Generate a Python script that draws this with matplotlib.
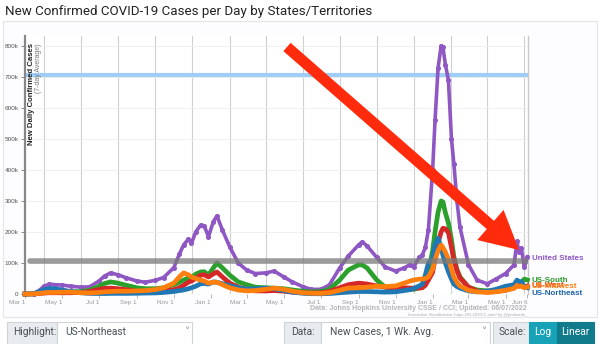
import matplotlib

matplotlib.use("Agg")
import matplotlib.pyplot as plt
import matplotlib.dates as mdates
import pandas as pd
from matplotlib.patches import FancyArrow, Rectangle
from matplotlib.transforms import Affine2D

# 7-day average new cases, thousands
DATES = [
    "2020-03-01", "2020-03-15", "2020-03-25", "2020-04-01", "2020-04-10", "2020-04-20",
    "2020-05-01", "2020-05-15", "2020-06-01", "2020-06-15", "2020-07-01", "2020-07-10",
    "2020-07-20", "2020-08-01", "2020-08-15", "2020-09-01", "2020-09-15", "2020-10-01",
    "2020-10-15", "2020-11-01", "2020-11-10", "2020-11-17", "2020-11-25", "2020-11-30",
    "2020-12-07", "2020-12-15", "2020-12-21", "2020-12-28",
    "2021-01-05", "2021-01-11", "2021-01-20", "2021-02-01", "2021-02-15", "2021-03-01",
    "2021-03-15", "2021-04-01", "2021-04-15", "2021-05-01", "2021-05-15", "2021-06-01",
    "2021-06-15", "2021-07-01", "2021-07-15", "2021-08-01", "2021-08-15", "2021-09-01",
    "2021-09-07", "2021-09-15", "2021-10-01", "2021-10-15", "2021-11-01", "2021-11-15",
    "2021-11-25", "2021-12-01", "2021-12-10", "2021-12-15", "2021-12-20", "2021-12-25",
    "2022-01-01", "2022-01-05", "2022-01-10", "2022-01-15", "2022-01-18", "2022-01-22",
    "2022-01-27", "2022-02-01", "2022-02-05", "2022-02-10", "2022-02-15", "2022-03-01",
    "2022-03-15", "2022-04-01", "2022-04-15", "2022-05-01", "2022-05-15", "2022-05-20",
    "2022-05-23", "2022-05-27", "2022-06-01", "2022-06-06",
]
US = [
    0, 1.5, 12, 25, 32, 30, 29, 25, 22, 23, 42, 58, 68, 62, 52, 42, 38, 44, 53, 85,
    128, 158, 177, 163, 200, 222, 220, 185,
    233, 252, 206, 152, 100, 77, 66, 68, 74, 55, 39, 24, 15, 15, 29, 84, 122, 158,
    168, 155, 118, 87, 74, 84, 95, 88, 118, 126, 150, 206,
    400, 560, 730, 800, 795, 740, 690, 500, 420, 300, 216, 95, 45, 33, 48, 66, 94, 170,
    135, 148, 86, 120,
]
SOUTH = [
    0, 0.5, 3, 6, 7, 7, 7, 7, 8, 12, 25, 34, 39, 35, 28, 20, 17, 17, 20, 30,
    38, 45, 52, 52, 64, 71, 72, 61,
    84, 100, 84, 61, 39, 30, 22, 20, 19, 17, 13, 9, 7, 8, 15, 45, 77, 94,
    94, 84, 45, 22, 16, 14, 16, 15, 20, 25, 35, 68,
    140, 200, 265, 300, 297, 262, 229, 175, 120, 80, 55, 22, 13, 10, 10, 14, 22, 40,
    35, 38, 48, 45,
]
WEST = [
    0, 0.3, 1.5, 3, 4, 4, 4, 4, 5, 8, 15, 18, 19, 17, 14, 9, 7, 7, 9, 14,
    20, 28, 38, 42, 50, 61, 62, 55,
    65, 71, 55, 35, 22, 15, 10, 10, 11, 9, 6, 4, 3, 4, 8, 20, 30, 35,
    34, 32, 26, 22, 20, 20, 19, 19, 19, 20, 28, 45,
    70, 115, 165, 200, 212, 210, 198, 150, 110, 75, 52, 22, 10, 6, 8, 12, 20, 30,
    26, 28, 22, 26,
]
MIDWEST = [
    0, 0.3, 2, 4, 5, 5, 6, 6, 4, 3.5, 5, 7, 8, 9, 9, 10, 11, 14, 20, 35,
    55, 68, 62, 55, 50, 45, 42, 35,
    38, 38, 30, 20, 13, 10, 11, 15, 19, 15, 9, 4, 2.5, 2, 4, 12, 19, 20,
    21, 22, 25, 24, 26, 35, 42, 45, 48, 48, 50, 55,
    80, 110, 140, 158, 150, 135, 112, 80, 55, 38, 26, 12, 7, 5, 7, 12, 18, 28,
    24, 26, 20, 23,
]
NORTHEAST = [
    0, 0.7, 8, 14, 18, 17, 13, 8, 4, 2, 1.5, 1.5, 2, 2, 2, 2.5, 3, 3.5, 5, 8,
    11, 13, 17, 20, 25, 33, 34, 32,
    39, 38, 33, 27, 20, 16, 17, 19, 17, 11, 6, 2.5, 1, 0.8, 1.5, 4, 6, 8,
    8, 8, 7, 6, 7, 11, 14, 18, 26, 32, 61, 100,
    115, 160, 180, 150, 125, 100, 72, 48, 32, 24, 19, 10, 7, 9, 15, 25, 30, 45,
    38, 40, 22, 20,
]
REF_LINES = [707, 107]

TICK_DATES = [
    "2020-03-01", "2020-05-01", "2020-07-01", "2020-09-01", "2020-11-01", "2021-01-01",
    "2021-03-01", "2021-05-01", "2021-07-01", "2021-09-01", "2021-11-01", "2022-01-01",
    "2022-03-01", "2022-05-01", "2022-06-06",
]
TICK_LABELS = [
    "Mar 1", "May 1", "Jul 1", "Sep 1", "Nov 1", "Jan 1", "Mar 1", "May 1", "Jul 1",
    "Sep 1", "Nov 1", "Jan 1", "Mar 1", "May 1", "Jun 6",
]

W, H = 600, 344
fig = plt.figure(figsize=(W / 100, H / 100), dpi=100)
fig.patch.set_facecolor("white")
px = Affine2D().scale(1 / W, -1 / H).translate(0, 1) + fig.transFigure

FONT = ["Roboto", "DejaVu Sans"]
FONT_B = ["Liberation Sans", "DejaVu Sans"]

# chart panel, behind the axes
fig.patches.append(Rectangle((3, 21), 594, 296, transform=px, facecolor="#fdfdff",
                             edgecolor="#e4e4ea", lw=0.8, zorder=-5))

ax = fig.add_axes([25 / W, (H - 294) / H, (528 - 25) / W, (294 - 36) / H])
ax.set_zorder(2)
ax.set_facecolor("white")

dates = pd.to_datetime(DATES)
ax.set_xlim(pd.Timestamp("2020-03-01"), pd.Timestamp("2022-06-07"))
ax.set_ylim(0, 832)

ax.xaxis.set_minor_locator(mdates.MonthLocator())
ax.set_xticks(pd.to_datetime(TICK_DATES))
ax.set_xticklabels(TICK_LABELS, fontsize=4.6, color="#999999", ha="right", family=FONT_B)
ax.tick_params(axis="x", which="major", length=3, width=0.6, color="#aaaaaa", pad=1)
ax.tick_params(axis="x", which="minor", length=0)
ax.grid(which="minor", axis="x", color="#cfcfcf", lw=0.8)

yt = list(range(0, 801, 100))
ax.set_yticks(yt)
ax.set_yticklabels(["0"] + [f"{v}k" for v in yt[1:]], fontsize=4.6, color="#555555",
                   family=FONT_B)
ax.tick_params(axis="y", length=3, width=0.6, color="#777777", pad=1.5)
ax.grid(which="major", axis="y", color="#eeeeee", lw=0.6)
ax.set_axisbelow(True)

for side in ("top", "bottom"):
    ax.spines[side].set_visible(False)
ax.spines["left"].set_color("#888888")
ax.spines["left"].set_linewidth(1.6)
ax.spines["right"].set_color("#c8c8c8")
ax.spines["right"].set_linewidth(1.0)

# reference lines
ax.axhline(REF_LINES[0], color="#9fcdf5", lw=3, zorder=2)
ax.plot([pd.Timestamp("2020-03-10"), pd.Timestamp("2022-06-07")], [REF_LINES[1]] * 2,
        color="#7a7a7a", lw=4, alpha=0.75, solid_capstyle="round", zorder=8)

series = [
    (US, "#8e57c4", 2.6, "o", 3),
    (SOUTH, "#2ca02c", 3.4, None, 4),
    (WEST, "#d62728", 3.4, None, 5),
    (NORTHEAST, "#1f77b4", 3.4, None, 6),
    (MIDWEST, "#ff7f0e", 3.4, None, 7),
]
for vals, color, lw, mk, z in series:
    ax.plot(dates, vals, color=color, lw=lw, marker=mk, markersize=2.6,
            solid_joinstyle="round", zorder=z, clip_on=False)

# end labels
end = dates[-1]
labels = [
    ("United States", US[-1], "#8e57c4", -1),
    ("US-South", SOUTH[-1], "#2a9a2a", 0),
    ("US-West", WEST[-1], "#e8461c", 0.5),
    ("US-Midwest", MIDWEST[-1], "#ff7f0e", 0),
    ("US-Northeast", NORTHEAST[-1], "#1f63a8", -4),
]
for text, val, color, dy in labels:
    ax.annotate(text, (end, val), xytext=(3, dy), textcoords="offset points",
                fontsize=5.8, fontweight="bold", color=color, va="center",
                family=FONT_B, annotation_clip=False)

# y label
fig.text(31.5, 43, "New Daily Confirmed Cases", transform=px, rotation=90, ha="center",
         va="top", fontsize=5.6, fontweight="bold", color="#222222", family=FONT_B,
         zorder=10)
fig.text(38, 43, "(7-day Average)", transform=px, rotation=90, ha="center",
         va="top", fontsize=5, color="#777777", family=FONT_B, zorder=10)

# title
fig.text(5, 11, "New Confirmed COVID-19 Cases per Day by States/Territories", transform=px,
         ha="left", va="center", fontsize=9.6, color="#222222", family=FONT)

# credits
fig.text(527, 309, "Data: Johns Hopkins University CSSE / CCI; Updated: 06/07/2022",
         transform=px, ha="right", va="center", fontsize=5, fontweight="bold",
         color="#b5b5b5", family=FONT_B)
fig.text(527, 315, "Interactive Visualization: https://91-DIVOC.com/ by @profwade_",
         transform=px, ha="right", va="center", fontsize=3.1, color="#aaaaaa", family=FONT_B)

# arrow overlay
fig.add_artist(FancyArrow(287, 47, 232, 203, width=11, head_width=40, head_length=38,
                          length_includes_head=True, transform=px, color="#ff2b0c",
                          lw=0, zorder=20))


# controls row
def box(x0, x1, fc, ec="#ced4da"):
    fig.add_artist(Rectangle((x0, 322), x1 - x0, 24, transform=px, facecolor=fc,
                             edgecolor=ec, lw=0.8))


def label(x, text, color="#495057", ha="left"):
    fig.text(x, 332, text, transform=px, ha=ha, va="center", fontsize=7.4,
             color=color, family=FONT)


box(7, 57, "#e9ecef")
box(57, 192, "white")
label(13, "Highlight:")
label(65, "US-Northeast")
label(187, "\u02c5", color="#888888", ha="center")
box(284, 321, "#e9ecef")
box(321, 490, "white")
label(291, "Data:")
label(330, "New Cases, 1 Wk. Avg.")
label(484, "\u02c5", color="#888888", ha="center")
box(493, 529, "#e9ecef")
label(499, "Scale:")
box(529, 557, "#17a2b8", ec="#17a2b8")
box(557, 594, "#117a8b", ec="#117a8b")
label(543, "Log", color="white", ha="center")
label(575.5, "Linear", color="white", ha="center")

fig.savefig("out.png", dpi=100)
